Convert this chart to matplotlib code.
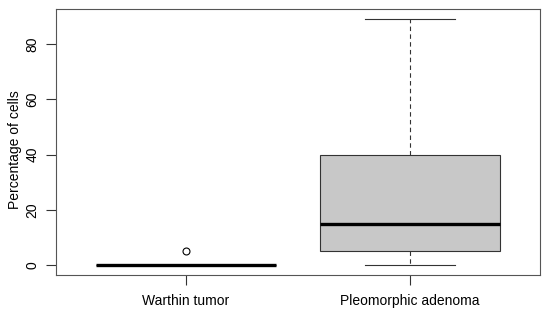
import matplotlib
matplotlib.use("Agg")
import matplotlib.pyplot as plt

# summary statistics
groups = ["Warthin tumor", "Pleomorphic adenoma"]
lower_whisker = [0, 0]
q1 = [0, 5]
median = [0, 15]
q3 = [0, 40]
upper_whisker = [0, 89]
outliers = [[5], []]

plt.rcParams["font.family"] = ["Liberation Sans", "DejaVu Sans"]

stats = []
for i, name in enumerate(groups):
    stats.append({
        "label": name,
        "whislo": lower_whisker[i],
        "q1": q1[i],
        "med": median[i],
        "q3": q3[i],
        "whishi": upper_whisker[i],
        "fliers": outliers[i],
    })

fig = plt.figure(figsize=(5.5, 3.14), dpi=100)
ax = fig.add_axes([0.1018, 0.1242, 0.88, 0.8468])

ax.bxp(stats, positions=[1, 2], widths=0.8, patch_artist=True,
       boxprops=dict(facecolor="#C8C8C8", edgecolor="#333333", linewidth=0.8),
       medianprops=dict(color="black", linewidth=2.4, solid_capstyle="butt"),
       whiskerprops=dict(color="#333333", linewidth=0.8, linestyle=(0, (4, 3))),
       capprops=dict(color="#333333", linewidth=0.8),
       capwidths=0.4,
       flierprops=dict(marker="o", markerfacecolor="none", markeredgecolor="black",
                       markersize=5, markeredgewidth=0.8))

ax.set_xlim(0.42, 2.58)
ax.set_ylim(-3.56, 92.56)
ax.set_yticks([0, 20, 40, 60, 80])
ax.set_xticks([1, 2])
ax.set_xticklabels(groups)
for lab in ax.get_yticklabels():
    lab.set_rotation(90)
    lab.set_va("center")
ax.tick_params(axis="both", labelsize=10, length=7, width=0.8, color="#333333")
ax.tick_params(axis="x", pad=7)
ax.tick_params(axis="y", pad=5)
for s in ax.spines.values():
    s.set_color("#555555")
    s.set_linewidth(0.8)
ax.set_ylabel("Percentage of cells", fontsize=10, va="center")
ax.yaxis.set_label_coords(-0.085, 0.47)

fig.savefig("out.png", dpi=100)
